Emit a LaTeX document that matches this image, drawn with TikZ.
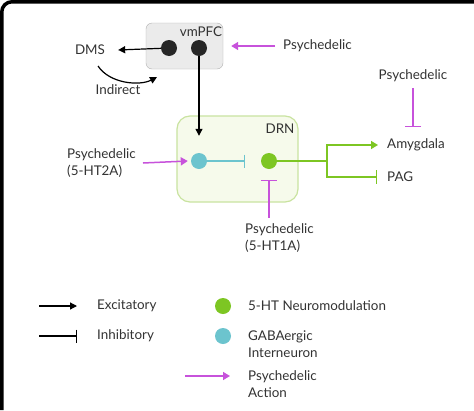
\documentclass[tikz,border=0pt]{standalone}
\usepackage{fontspec}
\setmainfont{Lato}
\usetikzlibrary{arrows.meta}
\definecolor{psyc}{HTML}{C752DB}
\definecolor{htgreen}{HTML}{7DC623}
\definecolor{gabacyan}{HTML}{6CC4CE}
\definecolor{drnfill}{HTML}{F6FAEB}
\definecolor{drnline}{HTML}{C9E3A0}
\definecolor{txtgray}{HTML}{333333}
\tikzset{
  txt/.style={font=\fontsize{13.4}{16.5}\selectfont,text=txtgray,inner sep=0pt,align=left},
  cell/.style={circle,minimum size=16pt,inner sep=0pt},
  exc/.style={line width=1.2pt,-{Triangle[length=7pt,width=7pt]}},
  inh/.style={line width=1.2pt,-{Bar[width=13pt,line width=1.2pt]}},
  psyarrow/.style={psyc,line width=1.5pt,-{Triangle[length=7pt,width=8pt]}},
  psyinh/.style={psyc,line width=1.5pt,-{Bar[width=16pt,line width=1.5pt]}}
}
\begin{document}
\begin{tikzpicture}[x=1pt,y=-1pt]
\useasboundingbox (0,0) rectangle (474,410);
\fill[white] (0,0) rectangle (474,410);
% frame, top and left only
\draw[line width=3.5pt] (1.75,410) -- (1.75,12) arc[start angle=180,end angle=270,radius=10.25] -- (474,1.75);
% vmPFC
\node[draw=black!30,fill=black!8,rounded corners=6pt,minimum width=77pt,minimum height=46pt] (vmpfc) at (184.5,46) {};
\node[txt] at (201,32) {vmPFC};
\node[cell,fill=black!85] (v1) at (169,48) {};
\node[cell,fill=black!85] (v2) at (199,48) {};
\node[txt] (dms) at (90,50) {DMS};
\draw[exc] (v1) -- ([xshift=13pt]dms.east);
\coordinate (ind0) at (98,66);
\coordinate (ind1) at (157,77);
\draw[exc] (ind0) .. controls (110,84) and (140,86) .. (ind1);
\node[txt] at (118,90) {Indirect};
\node[txt,anchor=west] (psy1) at (283,46) {Psychedelic};
\draw[psyarrow] ([xshift=-8pt]psy1.west) -- ([xshift=8pt]vmpfc.east);
% DRN
\node[draw=drnline,fill=drnfill,line width=1.2pt,rounded corners=13pt,minimum width=121pt,minimum height=86pt] (drn) at (237.5,159) {};
\node[txt] at (280,129) {DRN};
\node[cell,fill=gabacyan] (gaba) at (199,161) {};
\node[cell,fill=htgreen] (ht) at (269,161) {};
\draw[exc] (v2) -- ([yshift=17pt]gaba.north);
\draw[inh,gabacyan] (gaba) -- ([xshift=-16pt]ht.west);
\node[txt,anchor=west] (psy2) at (67,163) {Psychedelic\\(5-HT2A)};
\draw[psyarrow] ([xshift=7pt]psy2.east) -- ([xshift=-3pt]gaba.west);
% outputs
\node[txt,anchor=west] (amy) at (387,145) {Amygdala};
\node[txt,anchor=west] (pag) at (387,177) {PAG};
\coordinate (br) at (327,161);
\draw[htgreen,line width=1.5pt] (ht) -- (br);
\draw[htgreen,line width=1.5pt,-{Triangle[length=7pt,width=8pt]}] (br) |- ([xshift=-9pt]amy.west);
\draw[htgreen,line width=1.5pt,-{Bar[width=14pt,line width=1.5pt]}] (br) |- ([xshift=-10pt]pag.west);
\node[txt] (psy3) at (413,76) {Psychedelic};
\draw[psyinh] ([yshift=-6pt]psy3.south) -- ([yshift=-45pt]psy3.south);
\node[txt,anchor=west] (psy4) at (245,238) {Psychedelic\\(5-HT1A)};
\draw[psyinh] (psy4.north -| ht) ++(0,-6) -- ++(0,-38);
% legend
\node[txt,anchor=west] (lexc) at (97,306) {Excitatory};
\draw[exc] ([xshift=-58pt]lexc.west) -- ([xshift=-20pt]lexc.west);
\node[txt,anchor=west] (linh) at (97,336) {Inhibitory};
\draw[inh] ([xshift=-58pt]linh.west) -- ([xshift=-20pt]linh.west);
\node[cell,fill=htgreen] (lht) at (223,306) {};
\node[txt,anchor=west] at (248,306) {5-HT Neuromodulation};
\node[cell,fill=gabacyan] (lgaba) at (223,336) {};
\node[txt,anchor=west] at (248,344) {GABAergic\\Interneuron};
\node[txt,anchor=west] (lpsy) at (248,384) {Psychedelic\\Action};
\draw[psyarrow] ([xshift=-63pt]lpsy.west |- 0,376) -- ([xshift=-18pt]lpsy.west |- 0,376);
\end{tikzpicture}
\end{document}
